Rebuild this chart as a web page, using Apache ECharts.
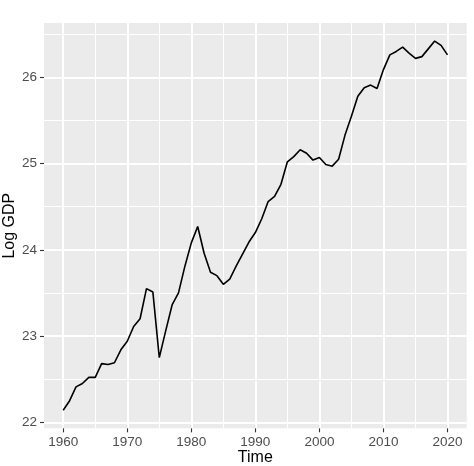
<!DOCTYPE html>
<html>
<head>
<meta charset="utf-8">
<script src="https://cdn.jsdelivr.net/npm/echarts@6/dist/echarts.min.js"></script>
<style>html,body{margin:0;padding:0;background:#fff}#c{width:474px;height:466px}</style>
</head>
<body>
<div id="c"></div>
<script>
const years = [];
for (let y = 1960; y <= 2020; y++) years.push(y);
const logGDP = [
  22.14, 22.25, 22.41, 22.45, 22.52, 22.52, 22.68, 22.67, 22.69, 22.84,
  22.94, 23.11, 23.20, 23.55, 23.51, 22.75, 23.06, 23.36, 23.50, 23.81,
  24.08, 24.27, 23.96, 23.74, 23.70, 23.60, 23.66, 23.81, 23.95, 24.09,
  24.20, 24.36, 24.56, 24.62, 24.76, 25.02, 25.08, 25.16, 25.12, 25.04,
  25.07, 24.99, 24.97, 25.05, 25.33, 25.55, 25.78, 25.88, 25.91, 25.87,
  26.09, 26.26, 26.30, 26.35, 26.28, 26.22, 26.24, 26.33, 26.42, 26.37,
  26.26
];
const xMajor = [1960, 1970, 1980, 1990, 2000, 2010, 2020];
const xMinor = [1965, 1975, 1985, 1995, 2005, 2015];
const yMajor = [22, 23, 24, 25, 26];
const yMinor = [22.5, 23.5, 24.5, 25.5, 26.5];

const xMin = 1957, xMax = 2023;
const yMin = 21.93, yMax = 26.63;
const font = 'Liberation Sans, Arial, sans-serif';

const chart = echarts.init(document.getElementById('c'), null, {renderer: 'canvas'});
chart.setOption({
  animation: false,
  backgroundColor: '#ffffff',
  grid: {left: 44, top: 23, right: 7.3, bottom: 37.7, show: true, backgroundColor: '#EBEBEB', borderWidth: 0,
    containLabel: false, outerBoundsMode: 'none'},
  xAxis: [
    {
      type: 'value', min: xMin, max: xMax, position: 'bottom', z: 1,
      name: 'Time', nameLocation: 'middle', nameGap: 21, nameMoveOverlap: false,
      nameTextStyle: {fontFamily: font, fontSize: 16, color: '#000'},
      axisLine: {show: false},
      axisTick: {show: true, length: 4, lineStyle: {color: '#333333', width: 1.1}, customValues: xMajor},
      axisLabel: {show: true, margin: 7, fontFamily: font, fontSize: 13.5, color: '#4D4D4D', customValues: xMajor,
        formatter: v => String(v)},
      splitLine: {show: true, lineStyle: {color: '#ffffff', width: 2}}
    },
    {
      type: 'value', min: xMin, max: xMax, position: 'bottom', z: 0,
      axisLine: {show: false},
      axisTick: {show: false, customValues: xMinor},
      axisLabel: {show: false, customValues: xMinor},
      splitLine: {show: true, lineStyle: {color: '#ffffff', width: 1}}
    }
  ],
  yAxis: [
    {
      type: 'value', min: yMin, max: yMax, position: 'left', z: 1,
      name: 'Log GDP', nameLocation: 'middle', nameGap: 26, nameMoveOverlap: false,
      nameTextStyle: {fontFamily: font, fontSize: 16, color: '#000'},
      axisLine: {show: false},
      axisTick: {show: true, length: 4, lineStyle: {color: '#333333', width: 1.1}, customValues: yMajor},
      axisLabel: {show: true, margin: 7, fontFamily: font, fontSize: 13.5, color: '#4D4D4D', customValues: yMajor,
        formatter: v => String(v)},
      splitLine: {show: true, lineStyle: {color: '#ffffff', width: 2}}
    },
    {
      type: 'value', min: yMin, max: yMax, position: 'left', z: 0,
      axisLine: {show: false},
      axisTick: {show: false, customValues: yMinor},
      axisLabel: {show: false, customValues: yMinor},
      splitLine: {show: true, lineStyle: {color: '#ffffff', width: 1}}
    }
  ],
  series: [{
    type: 'line',
    xAxisIndex: 0, yAxisIndex: 0,
    data: years.map((y, i) => [y, logGDP[i]]),
    showSymbol: false,
    lineStyle: {color: '#000000', width: 1.6},
    z: 5
  }]
});
</script>
</body>
</html>
